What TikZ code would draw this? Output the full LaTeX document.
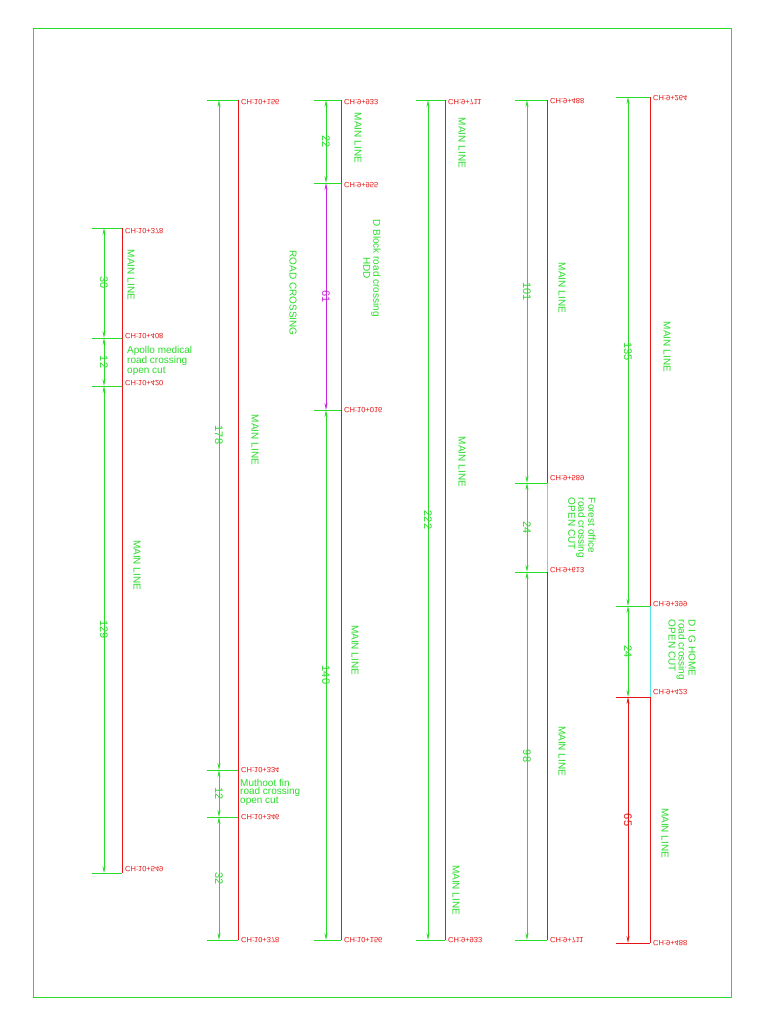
\documentclass[tikz,border=0pt]{standalone}
\usepackage{fontspec}
\setmainfont{Liberation Sans}
\usetikzlibrary{arrows.meta}
\definecolor{gr}{RGB}{40,220,40}
\definecolor{rd}{RGB}{230,20,20}
\definecolor{mg}{RGB}{200,40,220}
\definecolor{cy}{RGB}{80,230,230}
\newcommand{\dseg}[5]{\draw[#5,line width=0.7pt,{Stealth[length=7pt,width=3pt]}-{Stealth[length=7pt,width=3pt]}] (#1,#2) -- node[rotate=-90,font=\fontsize{11}{11}\selectfont,text=#5,inner sep=0pt] {#4} (#1,#3);}
\newcommand{\tick}[4]{\draw[#4,line width=0.7pt] (#1-12,#3) -- (#2,#3);}
\newcommand{\ch}[3]{\node[chl] at (#1+3,#2) {#3};}
\begin{document}
\begin{tikzpicture}[x=1pt,y=-1pt,
  pipe/.style={line width=1pt},
  chl/.style={anchor=west,yscale=-1,text=rd,font=\fontsize{7.5}{7.5}\selectfont,inner sep=0pt},
  lab/.style={rotate=-90,text=gr,font=\fontsize{10}{10}\selectfont,inner sep=0pt},
  hl/.style={text=gr,font=\fontsize{10}{8}\selectfont,align=left,inner sep=0pt,anchor=north west}]
\useasboundingbox (0,0) rectangle (768,1024);
\fill[white] (0,0) rectangle (768,1024);
\draw[gr,line width=0.8pt] (33,28) rectangle (731,997);
% col1
\draw[rd,pipe] (122,228) -- (122,873);
\dseg{104}{228}{338}{30}{gr}\dseg{104}{338}{386}{12}{gr}\dseg{104}{386}{873}{129}{gr}
\foreach \y in {228,338,386,873}{\tick{104}{122}{\y}{gr}}
\ch{122}{231}{CH:10+378}\ch{122}{336}{CH:10+408}\ch{122}{383}{CH:10+420}\ch{122}{869}{CH:10+549}
\node[lab] at (131,275) {MAIN LINE};
\node[hl] at (127,346) {Apollo medical\\road crossing\\open cut};
\node[lab] at (137,565) {MAIN LINE};
% col2
\draw[rd,pipe] (238,100) -- (238,940);
\dseg{219}{100}{770}{178}{gr}\dseg{219}{770}{817}{12}{gr}\dseg{219}{817}{940}{32}{gr}
\foreach \y in {100,770,817,940}{\tick{219}{238}{\y}{gr}}
\ch{238}{102}{CH:10+156}\ch{238}{770}{CH:10+334}\ch{238}{817}{CH:10+346}\ch{238}{940}{CH:10+378}
\node[lab] at (255,440) {MAIN LINE};
\node[lab] at (293,293) {ROAD CROSSING};
\node[hl] at (240,779) {Muthoot fin\\road crossing\\open cut};
% col3
\draw[rd,pipe] (341,100) -- (341,183);
\draw[mg,pipe] (341,183) -- (341,410);
\draw[rd,pipe] (341,410) -- (341,940);
\dseg{326}{100}{183}{22}{gr}\dseg{326}{183}{410}{61}{mg}\dseg{326}{410}{940}{140}{gr}
\foreach \y in {100,183,410,940}{\tick{326}{341}{\y}{gr}}
\ch{341}{102}{CH:9+933}\ch{341}{185}{CH:9+955}\ch{341}{410}{CH:10+016}\ch{341}{940}{CH:10+156}
\node[lab] at (358,138) {MAIN LINE};
\node[lab,align=center] at (372,268) {D Block road crossing\\HDD};
\node[lab] at (355,650) {MAIN LINE};
% col4
\draw[rd,pipe] (445,100) -- (445,940);
\dseg{428}{100}{940}{222}{gr}
\foreach \y in {100,940}{\tick{428}{445}{\y}{gr}}
\ch{445}{102}{CH:9+711}\ch{445}{940}{CH:9+933}
\node[lab] at (462,143) {MAIN LINE};
\node[lab] at (462,462) {MAIN LINE};
\node[lab] at (456,890) {MAIN LINE};
% col5
\draw[rd,pipe] (547,100) -- (547,483);
\draw[cy,pipe] (547,483) -- (547,572);
\draw[rd,pipe] (547,572) -- (547,940);
\dseg{527}{100}{483}{101}{gr}\dseg{527}{483}{572}{24}{gr}\dseg{527}{572}{940}{98}{gr}
\foreach \y in {100,483,572,940}{\tick{527}{547}{\y}{gr}}
\ch{547}{101}{CH:9+488}\ch{547}{478}{CH:9+589}\ch{547}{570}{CH:9+613}\ch{547}{940}{CH:9+711}
\node[lab] at (562,288) {MAIN LINE};
\node[lab,align=left] at (582,528) {Forest office\\road crossing\\OPEN CUT};
\node[lab] at (562,751) {MAIN LINE};
% col6
\draw[rd,pipe] (650,97) -- (650,606);
\draw[cy,pipe] (650,606) -- (650,697);
\draw[rd,pipe] (650,697) -- (650,943);
\dseg{628}{97}{606}{135}{gr}\dseg{628}{606}{697}{24}{gr}\dseg{628}{697}{943}{65}{rd}
\foreach \y in {97,606}{\tick{628}{650}{\y}{gr}}
\foreach \y in {697,943}{\tick{628}{650}{\y}{rd}}
\ch{650}{98}{CH:9+264}\ch{650}{604}{CH:9+399}\ch{650}{692}{CH:9+423}\ch{650}{943}{CH:9+488}
\node[lab] at (667,347) {MAIN LINE};
\node[lab,align=left] at (682,650) {D I G HOME\\road crossing\\OPEN CUT};
\node[lab] at (665,833) {MAIN LINE};
\end{tikzpicture}
\end{document}
